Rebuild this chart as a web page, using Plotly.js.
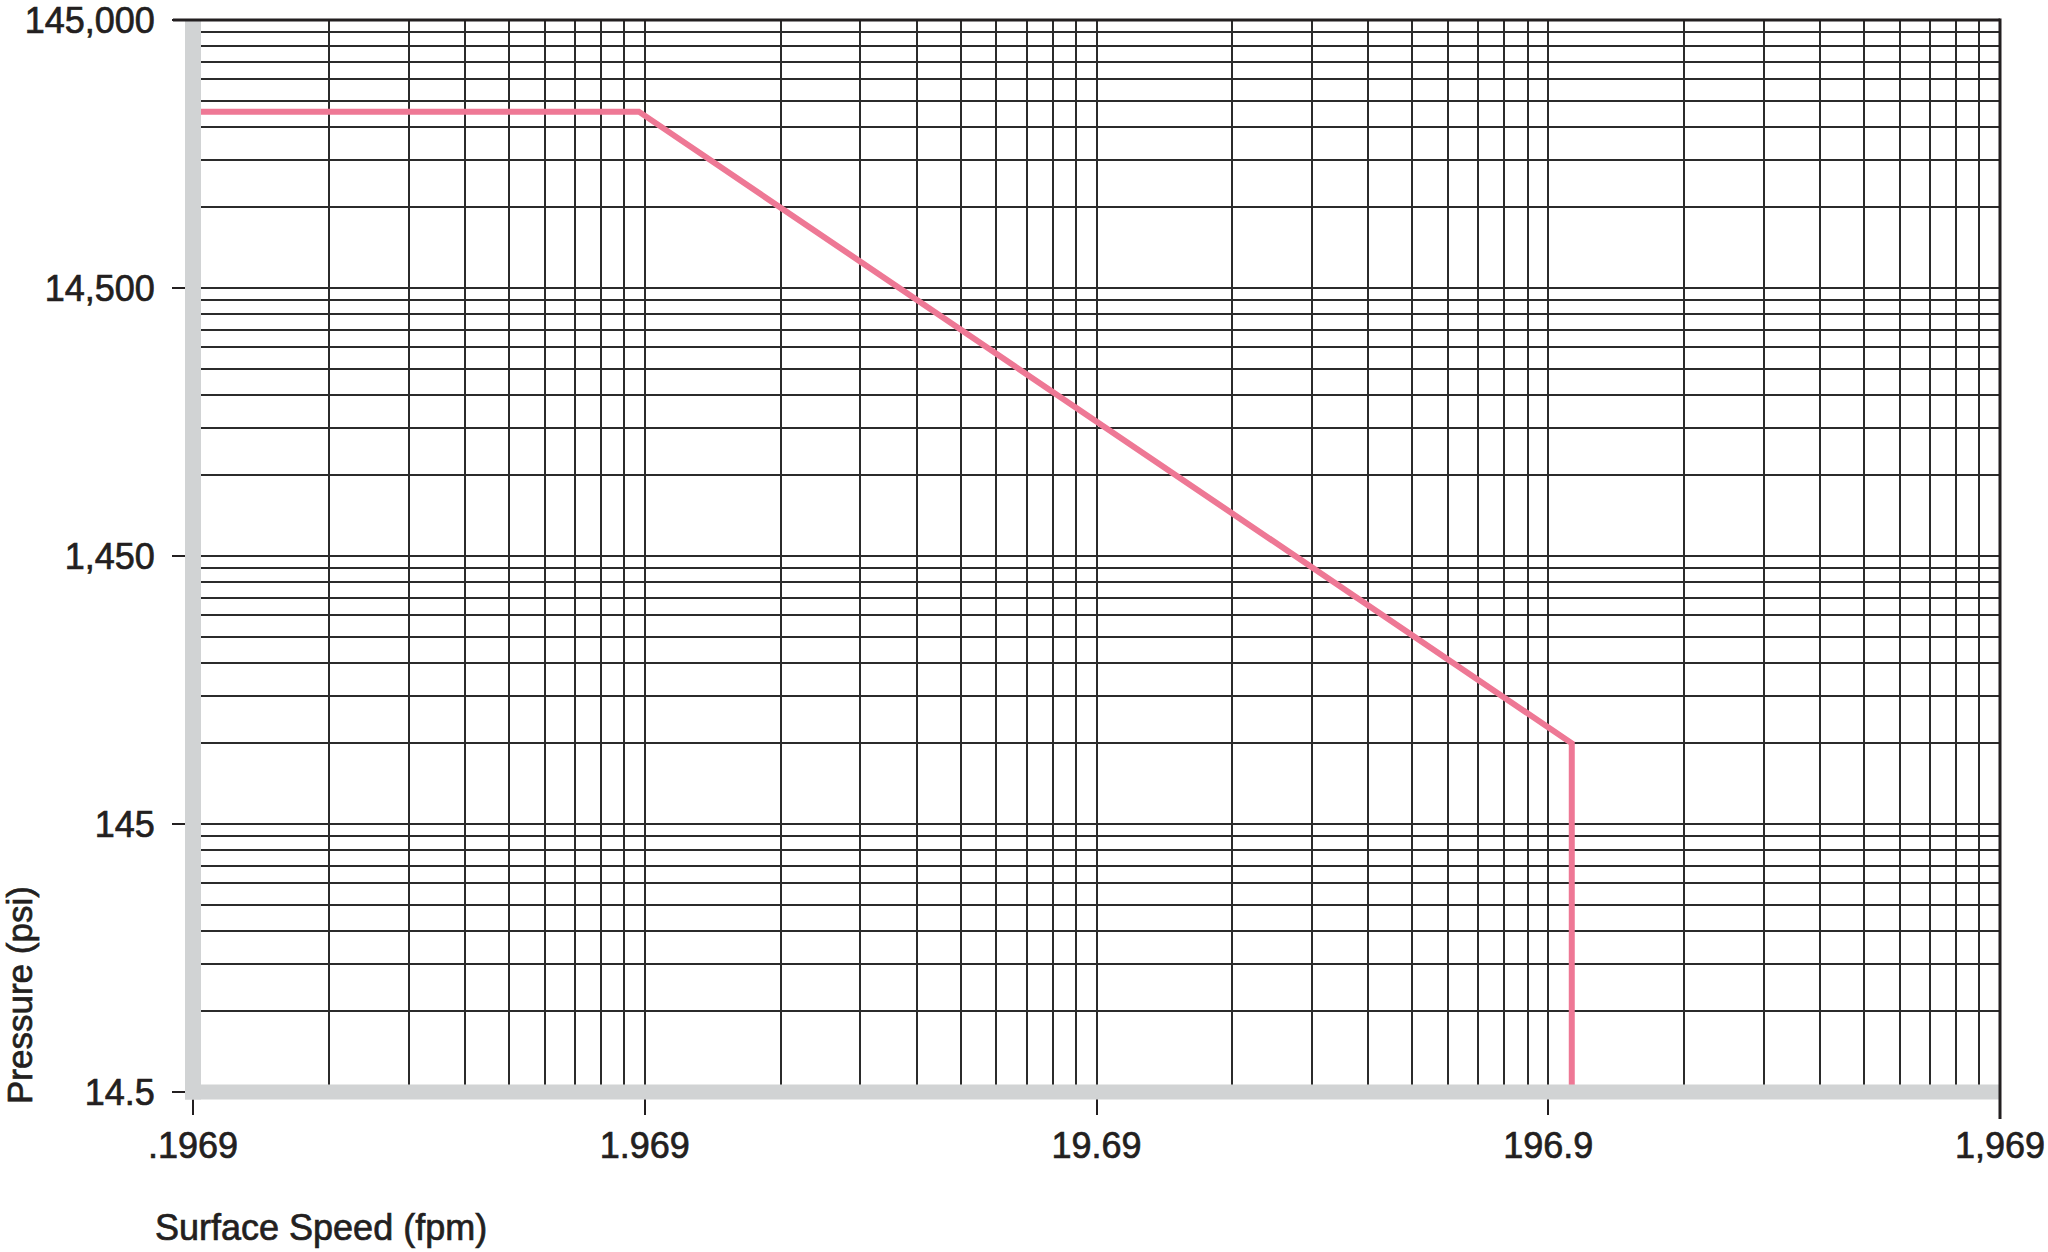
<!DOCTYPE html>
<html>
<head>
<meta charset="utf-8">
<script src="https://cdn.plot.ly/plotly-3.0.1.min.js"></script>
<style>
  html, body { margin: 0; padding: 0; background: #ffffff; }
  #chart { width: 2048px; height: 1252px; }
  /* the printed labels are a little heavier than Liberation Sans regular */
  #chart text { stroke: #231f20; stroke-width: 0.7px; }
</style>
</head>
<body>
<div id="chart"></div>
<script>
/* Pressure vs surface speed limit curve, log-log grid */

// ── Data ────────────────────────────────────────────────────────────────
const speedFpm = [0.1969, 1.91, 222, 222];
const pressurePsi = [66000, 66000, 290, 14.5];

const speedTicks = [0.1969, 1.969, 19.69, 196.9, 1969];
const speedLabels = ['.1969', '1.969', '19.69', '196.9', '1,969'];
const pressureTicks = [14.5, 145, 1450, 14500, 145000];
const pressureLabels = ['14.5', '145', '1,450', '14,500', '145,000'];
const gridMultipliers = [2, 3, 4, 5, 6, 7, 8, 9];

// ── Style ───────────────────────────────────────────────────────────────
const INK = '#231f20';
const GRID = '#2b2b2b';
const BAR_GRAY = '#d1d3d4';
const CURVE_PINK = '#ee7895';
const FONT = "'Liberation Sans', Arial, sans-serif";

const W = 2048, H = 1252;
const M = { l: 193, r: 48, t: 20, b: 160 };
const plotW = W - M.l - M.r;
const plotH = H - M.t - M.b;
const px = n => n / plotW;   // pixels -> paper x
const py = n => n / plotH;   // pixels -> paper y
const EPS = 1e-4;            // keep the end ticks inside the range

// minor grid lines inside each decade
function decadeGrid(majors) {
  const out = [];
  for (let i = 0; i < majors.length - 1; i++) {
    gridMultipliers.forEach(k => out.push(majors[i] * k));
  }
  return out;
}

const curve = {
  type: 'scatter',
  mode: 'lines',
  x: speedFpm,
  y: pressurePsi,
  line: { color: CURVE_PINK, width: 6 },
  hoverinfo: 'skip',
  showlegend: false,
};

const axisCommon = {
  type: 'log',
  tickmode: 'array',
  showgrid: true,
  gridcolor: GRID,
  gridwidth: 2,
  showline: false,
  zeroline: false,
  ticks: 'outside',
  tickcolor: INK,
  tickwidth: 2,
  tickfont: { family: FONT, size: 36, color: INK },
  ticklabeloverflow: 'allow',
  fixedrange: true,
};

const minorGrid = vals => ({
  tickmode: 'array',
  tickvals: vals,
  showgrid: true,
  gridcolor: GRID,
  gridwidth: 2,
  ticks: '',
});

const layout = {
  width: W,
  height: H,
  margin: M,
  paper_bgcolor: '#ffffff',
  plot_bgcolor: '#ffffff',
  showlegend: false,
  xaxis: Object.assign({}, axisCommon, {
    range: [Math.log10(speedTicks[0]) - EPS, Math.log10(speedTicks[speedTicks.length - 1]) + EPS],
    tickvals: speedTicks,
    ticktext: speedLabels,
    ticklen: 22,
    ticklabelstandoff: 0,
    minor: minorGrid(decadeGrid(speedTicks)),
  }),
  yaxis: Object.assign({}, axisCommon, {
    range: [Math.log10(pressureTicks[0]) - EPS, Math.log10(pressureTicks[pressureTicks.length - 1]) + EPS],
    tickvals: pressureTicks,
    ticktext: pressureLabels,
    ticklen: 20,
    ticklabelstandoff: 10,
    minor: minorGrid(decadeGrid(pressureTicks)),
  }),
  shapes: [
    // thick gray left axis bar
    { type: 'rect', xref: 'paper', yref: 'paper', layer: 'above',
      x0: -px(8), x1: px(8), y0: -py(7.5), y1: 1,
      fillcolor: BAR_GRAY, line: { width: 0 } },
    // thick gray bottom axis bar
    { type: 'rect', xref: 'paper', yref: 'paper', layer: 'above',
      x0: -px(8), x1: 1, y0: -py(7.5), y1: py(7.5),
      fillcolor: BAR_GRAY, line: { width: 0 } },
    // top border, joined to the 145,000 tick
    { type: 'line', xref: 'paper', yref: 'paper', layer: 'above',
      x0: -px(20), x1: 1, y0: 1, y1: 1,
      line: { color: INK, width: 3 } },
    // right border, runs down past the bar as the last tick
    { type: 'line', xref: 'paper', yref: 'paper', layer: 'above',
      x0: 1, x1: 1, y0: -py(27), y1: 1 + py(1.5),
      line: { color: INK, width: 3 } },
  ],
  annotations: [
    { xref: 'paper', yref: 'paper', x: -px(40), y: -py(135),
      xanchor: 'left', yanchor: 'middle', showarrow: false,
      text: 'Surface Speed (fpm)',
      font: { family: FONT, size: 36, color: INK } },
    { xref: 'paper', yref: 'paper', x: -px(174), y: py(97),
      xanchor: 'center', yanchor: 'middle', showarrow: false, textangle: -90,
      text: 'Pressure (psi)',
      font: { family: FONT, size: 35, color: INK } },
  ],
};

Plotly.newPlot('chart', [curve], layout, { displayModeBar: false, staticPlot: true });
</script>
</body>
</html>
